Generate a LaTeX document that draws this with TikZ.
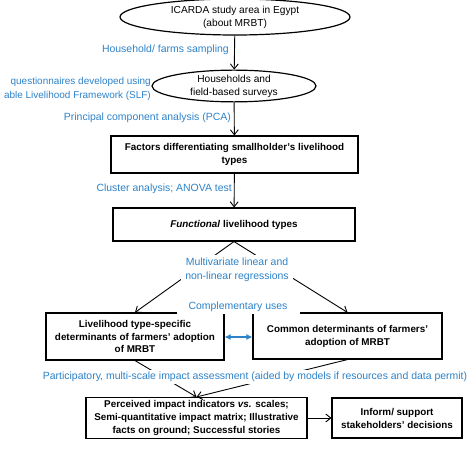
\documentclass[tikz,border=0pt]{standalone}
\usepackage{fontspec}
\setmainfont{Liberation Sans}
\usetikzlibrary{arrows.meta,shapes.geometric}
\definecolor{lblue}{RGB}{45,130,200}
\tikzset{
  every node/.style={font=\fontsize{10.2}{13}\selectfont, inner sep=0pt},
  ell/.style={draw, ellipse, line width=1.2pt, align=center},
  boxn/.style={draw, rectangle, line width=1.1pt, align=center, font=\fontsize{9.9}{13}\selectfont\bfseries},
  lab/.style={text=lblue, align=center, font=\fontsize{10.5}{13.5}\selectfont},
  wlab/.style={lab, fill=white, inner sep=1.5pt},
  conn/.style={line width=0.9pt, -{Straight Barb[length=5pt,width=8pt]}}
}
\begin{document}
\begin{tikzpicture}[x=1bp,y=-1bp]
\useasboundingbox (0,0) rectangle (474,460);
% nodes
\node[ell, minimum width=230bp, minimum height=36bp] (top) at (235,17) {ICARDA study area in Egypt\\(about MRBT)};
\node[ell, minimum width=164bp, minimum height=28bp] (hh) at (234,86) {Households and\\field-based surveys};
\node[boxn, minimum width=247bp, minimum height=37bp] (fac) at (234.5,154.5) {Factors differentiating smallholder’s livelihood\\types};
\node[boxn, minimum width=242bp, minimum height=33bp] (fun) at (234,224.5) {\textit{Functional} livelihood types};
\node[boxn, minimum width=178bp, minimum height=47bp] (lts) at (135,336.5) {Livelihood type-specific\\determinants of farmers’ adoption\\of MRBT};
\node[boxn, minimum width=189bp, minimum height=46bp] (com) at (347.5,336) {Common determinants of farmers’\\adoption of MRBT};
\node[boxn, minimum width=221bp, minimum height=41bp] (imp) at (196.5,418) {Perceived impact indicators \textit{vs.} scales;\\Semi-quantitative impact matrix; Illustrative\\facts on ground; Successful stories};
\node[boxn, minimum width=130bp, minimum height=40bp] (inf) at (397,418) {Inform/ support\\stakeholders’ decisions};
% connectors
\draw[conn] (top) -- (hh);
\draw[conn] (hh) -- (fac);
\draw[conn] (fac) -- (fun);
\draw[conn] (fun.south) -- (lts.north);
\draw[conn] (fun.south) -- (com.north);
\draw[conn] (com.south) -- (imp.north);
\draw[conn] (lts.south) -- (imp.north);
\draw[conn] (imp) -- (inf);
\draw[lblue, line width=1.4pt, {Latex[length=6pt,width=6pt]}-{Latex[length=6pt,width=6pt]}] (lts.east |- 0,337) -- (com.west |- 0,337);
% labels
\node[lab, anchor=east] (l1) at (229,50) {Household/ farms sampling};
\node[lab, anchor=east, align=right, font=\fontsize{10}{13.5}\selectfont] (l2) at (151,89) {questionnaires developed using\\able Livelihood Framework (SLF)};
\node[lab, anchor=east] (l3) at (231,118) {Principal component analysis (PCA)};
\node[lab, anchor=east] (l4) at (232,189) {Cluster analysis; ANOVA test};
\node[wlab, inner xsep=4pt, inner ysep=3pt] (l5) at (237,270) {Multivariate linear and\\non-linear regressions};
\node[wlab, minimum width=123bp, minimum height=14bp] (l6) at (238,307) {Complementary uses};
\node[wlab, inner ysep=2pt] (l7) at (255,377) {Participatory, multi-scale impact assessment (aided by models if resources and data permit)};
\end{tikzpicture}
\end{document}
